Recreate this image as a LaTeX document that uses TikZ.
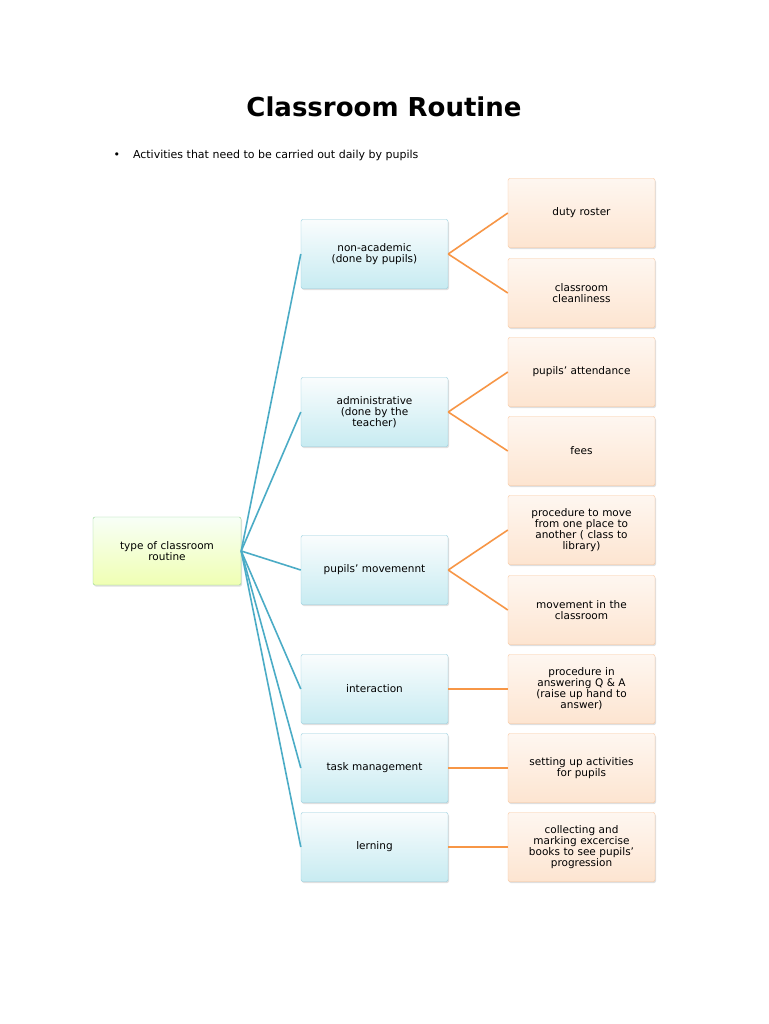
\documentclass[tikz,border=0pt]{standalone}
\usepackage{fontspec}
\setmainfont{DejaVu Sans}
\usetikzlibrary{shadows}
\definecolor{bl}{HTML}{4BACC6}
\definecolor{og}{HTML}{F79646}
\tikzset{
 box/.style={rounded corners=2pt, minimum width=147pt, minimum height=69pt, text width=140pt, align=center, font=\fontsize{10.5}{11}\selectfont, drop shadow={opacity=0.25, shadow xshift=1pt, shadow yshift=-1.5pt}},
 mid/.style={box, draw=bl!60, top color=white!85!bl!20, bottom color=bl!25!white!95!cyan},
 leaf/.style={box, draw=og!55, top color=og!8, bottom color=og!25},
 rootbox/.style={box, minimum width=148pt, minimum height=68pt, draw=green!45!gray!60, top color=green!3, bottom color=green!20!yellow!30},
 bline/.style={draw=bl, line width=1.6pt},
 oline/.style={draw=og, line width=1.6pt}
}
\begin{document}
\begin{tikzpicture}[x=1pt,y=-1pt]
\useasboundingbox (0,0) rectangle (768,1024);
\fill[white] (0,0) rectangle (768,1024);
\node[font=\bfseries\fontsize{26}{30}\selectfont] (title) at (384,107) {Classroom Routine};
\node[anchor=west, font=\fontsize{11}{13}\selectfont] (sub) at (110,155) {\textbullet\hspace{13pt}Activities that need to be carried out daily by pupils};
\node[rootbox] (r) at (167,551) {type of classroom\\routine};
\node[mid] (m1) at (374.5,254) {non-academic\\(done by pupils)};
\node[mid] (m2) at (374.5,412) {administrative\\(done by the\\teacher)};
\node[mid] (m3) at (374.5,570) {pupils' movemennt};
\node[mid] (m4) at (374.5,689) {interaction};
\node[mid] (m5) at (374.5,768) {task management};
\node[mid] (m6) at (374.5,847) {lerning};
\node[leaf] (l1) at (581.5,213) {duty roster};
\node[leaf] (l2) at (581.5,293) {classroom\\cleanliness};
\node[leaf] (l3) at (581.5,372) {pupils' attendance};
\node[leaf] (l4) at (581.5,451) {fees};
\node[leaf] (l5) at (581.5,530) {procedure to move\\from one place to\\another ( class to\\library)};
\node[leaf] (l6) at (581.5,610) {movement in the\\classroom};
\node[leaf] (l7) at (581.5,689) {procedure in\\answering Q \& A\\(raise up hand to\\answer)};
\node[leaf] (l8) at (581.5,768) {setting up activities\\for pupils};
\node[leaf] (l9) at (581.5,847) {collecting and\\marking excercise\\books to see pupils'\\progression};
\foreach \m in {m1,m2,m3,m4,m5,m6} \draw[bline] (r.east) -- (\m.west);
\draw[oline] (m1.east) -- (l1.west);
\draw[oline] (m1.east) -- (l2.west);
\draw[oline] (m2.east) -- (l3.west);
\draw[oline] (m2.east) -- (l4.west);
\draw[oline] (m3.east) -- (l5.west);
\draw[oline] (m3.east) -- (l6.west);
\draw[oline] (m4.east) -- (l7.west);
\draw[oline] (m5.east) -- (l8.west);
\draw[oline] (m6.east) -- (l9.west);
\end{tikzpicture}
\end{document}
